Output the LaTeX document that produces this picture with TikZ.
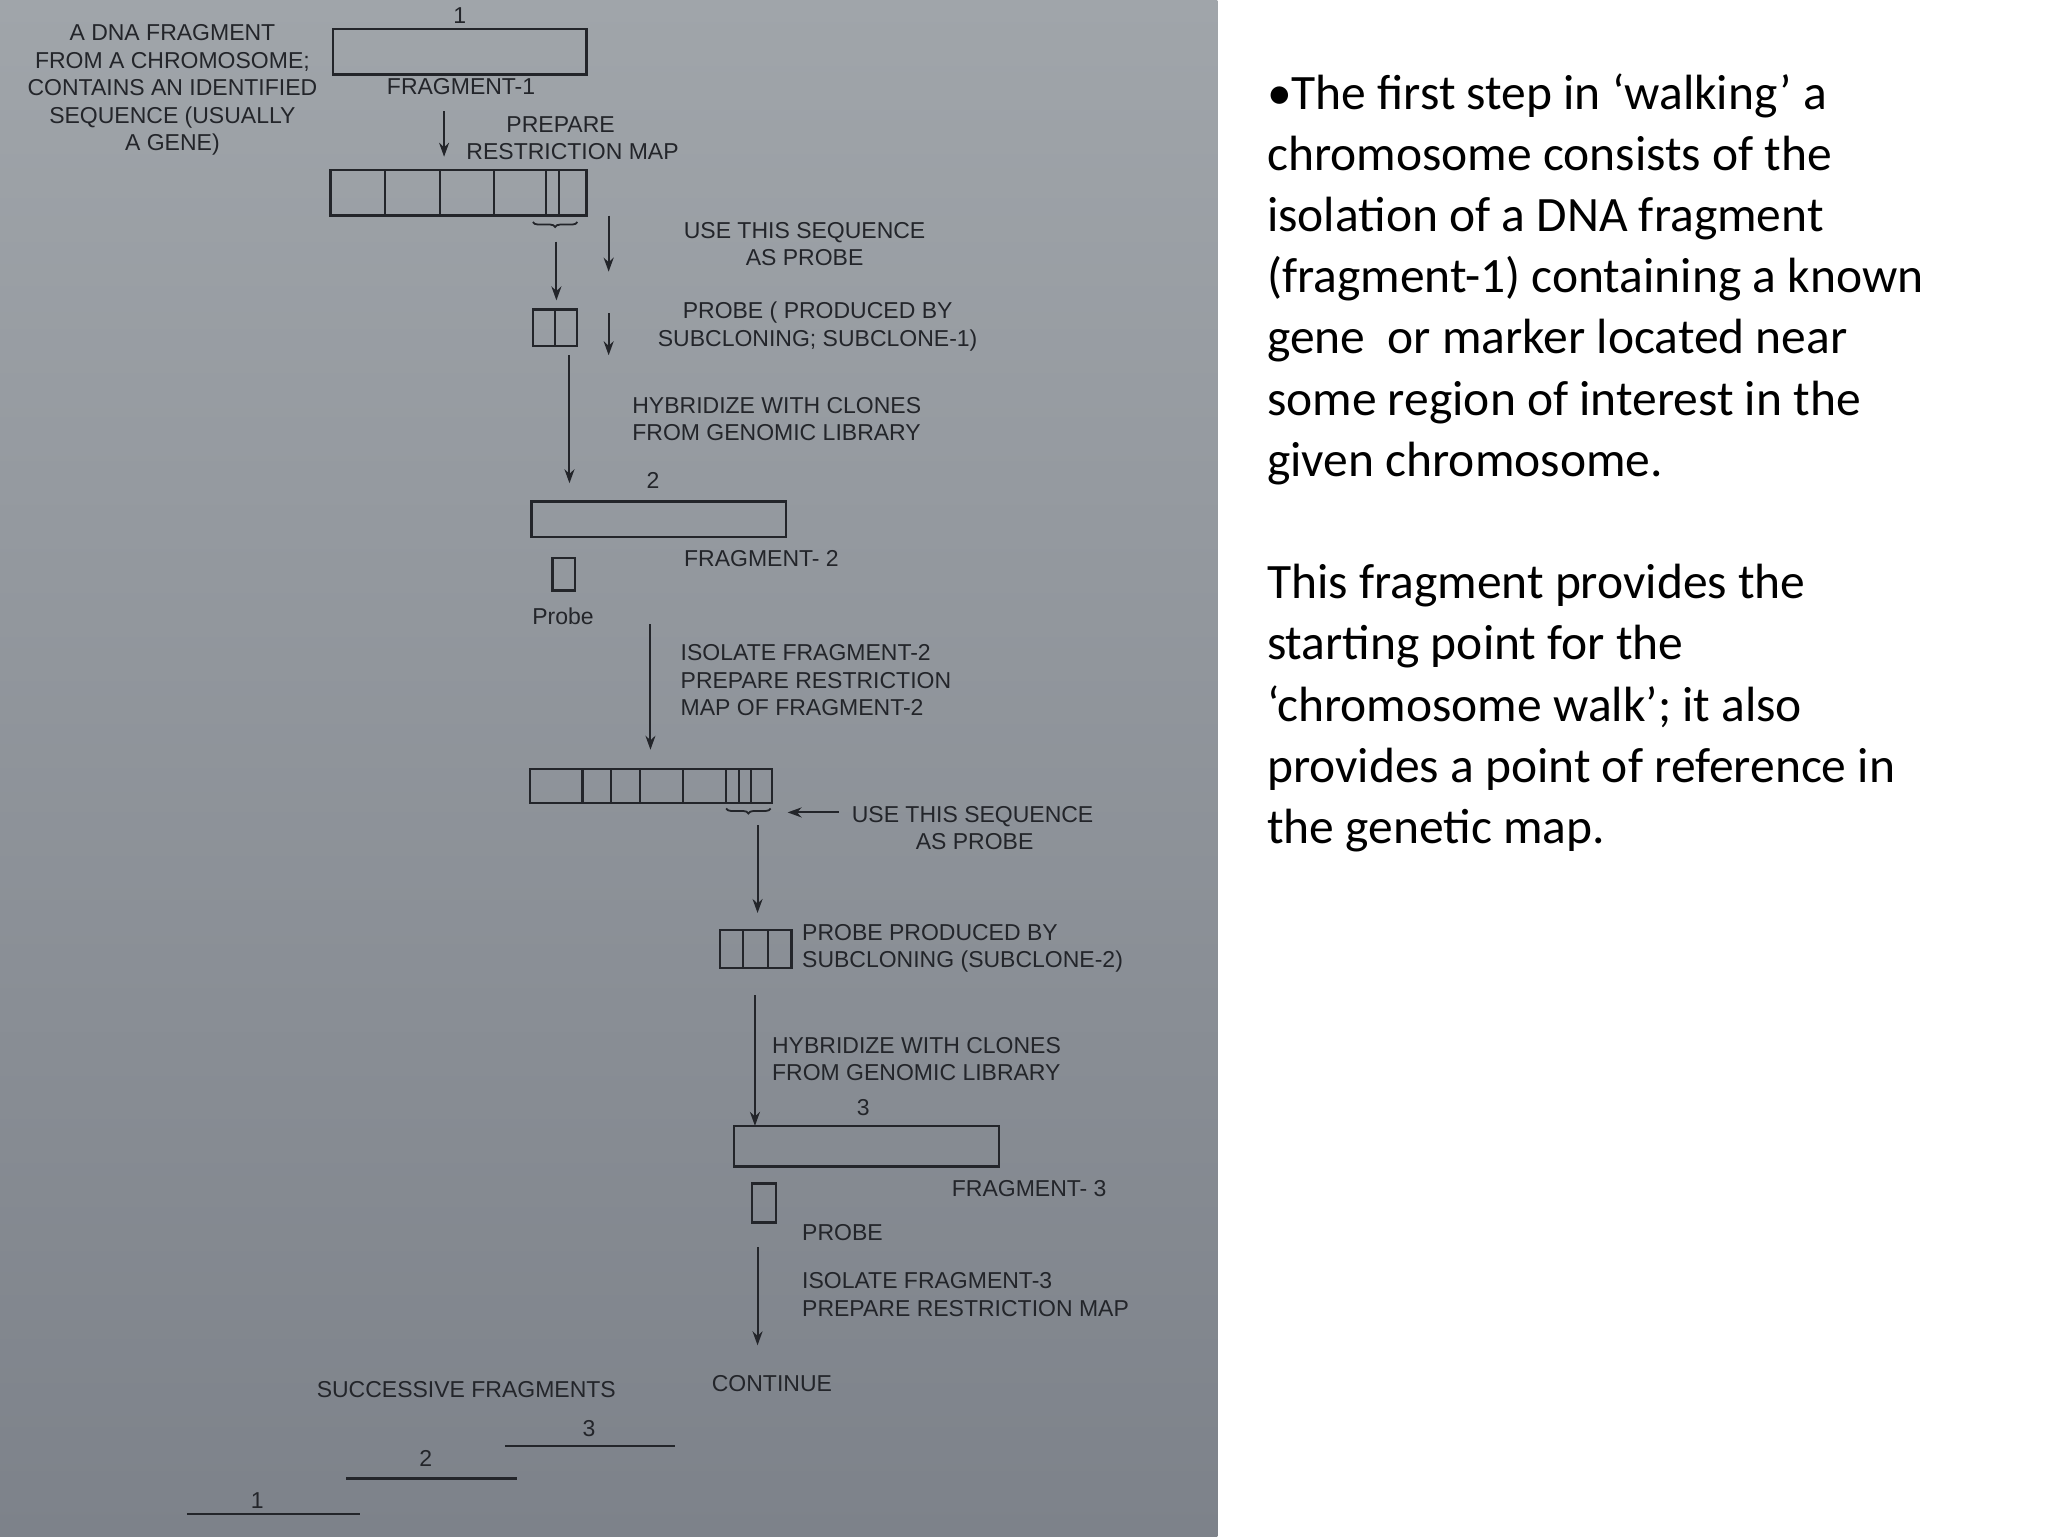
\documentclass[tikz,border=0pt]{standalone}
\usepackage{fontspec}
\setmainfont{Carlito}
\newfontfamily\diag{Liberation Sans}
\usetikzlibrary{arrows.meta,decorations.pathreplacing}
\definecolor{ink}{RGB}{35,37,42}
\definecolor{paperA}{RGB}{160,165,170}
\definecolor{paperB}{RGB}{125,130,138}
\tikzset{
 lbl/.style={font=\diag\fontsize{23}{27.5}\selectfont, text=ink, inner sep=0pt, align=left},
 lblc/.style={lbl, align=center},
 frag/.style={draw=ink, line width=2.3pt},
 arr/.style={draw=ink, line width=2pt, -{Stealth[length=14pt,width=10pt]}},
 brc/.style={draw=ink, line width=1.8pt, decorate, decoration={brace,mirror,amplitude=5pt}},
 ln/.style={draw=ink, line width=2.5pt},
}
\begin{document}
\begin{tikzpicture}[x=1.3061pt,y=-1.3061pt]
\useasboundingbox (0,0) rectangle (1568,1176);
\fill[white] (0,0) rectangle (1568,1176);
\shade[top color=paperA, bottom color=paperB] (0,0) rectangle (932,1176);
% fragment 1
\node[lblc] (t0) at (132,69) {A DNA FRAGMENT\\FROM A CHROMOSOME;\\CONTAINS AN IDENTIFIED\\SEQUENCE (USUALLY\\A GENE)};
\node[lbl] (n1) at (352,12) {1};
\draw[frag] (255,22) rectangle (449,57);
\node[lbl] (f1) at (353,66) {FRAGMENT-1};
\coordinate (a1s) at (340,85); \coordinate (a1e) at (340,120);
\draw[arr] (a1s) -- (a1e);
\node[lbl, anchor=west] (prep) at (357,106) {\hspace*{40pt}PREPARE\\RESTRICTION MAP};
\draw[frag] (253,130) rectangle (449,165);
\foreach \x in {295,337,378,418,428} \draw[frag] (\x,130) -- (\x,165);
\draw[brc] (408,170) -- (442,170);
\coordinate (a2s) at (466,165); \coordinate (a2e) at (466,208);
\draw[arr] (a2s) -- (a2e);
\coordinate (a3s) at (426,185); \coordinate (a3e) at (426,230);
\draw[arr] (a3s) -- (a3e);
\node[lblc] (use1) at (616,187) {USE THIS SEQUENCE\\AS PROBE};
\draw[frag] (408,237) rectangle (442,265); \draw[frag] (425,237) -- (425,265);
\coordinate (a4s) at (466,240); \coordinate (a4e) at (466,272);
\draw[arr] (a4s) -- (a4e);
\node[lblc] (pr1) at (626,250) {PROBE ( PRODUCED BY\\SUBCLONING; SUBCLONE-1)};
\coordinate (a5s) at (436,272); \coordinate (a5e) at (436,370);
\draw[arr] (a5s) -- (a5e);
\node[lbl, anchor=west] (hyb1) at (484,321) {HYBRIDIZE WITH CLONES\\FROM GENOMIC LIBRARY};
% fragment 2
\node[lbl] (n2) at (500,368) {2};
\draw[frag] (407,384) rectangle (602,411);
\node[lbl] (f2) at (583,428) {FRAGMENT- 2};
\draw[frag] (423,427) rectangle (440,452);
\node[lbl] (pb) at (431,472) {Probe};
\coordinate (a6s) at (498,478); \coordinate (a6e) at (498,574);
\draw[arr] (a6s) -- (a6e);
\node[lbl, anchor=west] (iso2) at (521,521) {ISOLATE FRAGMENT-2\\PREPARE RESTRICTION\\MAP OF FRAGMENT-2};
\draw[frag] (406,589) rectangle (591,615);
\foreach \x in {446,468,490,523,556,566,575} \draw[frag] (\x,589) -- (\x,615);
\draw[brc] (556,619) -- (590,619);
\coordinate (a7s) at (642,622); \coordinate (a7e) at (603,622);
\draw[arr] (a7s) -- (a7e);
\node[lbl, anchor=west] (use2) at (652,634) {USE THIS SEQUENCE\\\hspace*{64pt}AS PROBE};
\coordinate (a8s) at (580,632); \coordinate (a8e) at (580,699);
\draw[arr] (a8s) -- (a8e);
\draw[frag] (551,712) rectangle (606,741);
\foreach \x in {569,588} \draw[frag] (\x,712) -- (\x,741);
\node[lbl, anchor=west] (pr2) at (614,726) {PROBE PRODUCED BY\\SUBCLONING (SUBCLONE-2)};
\coordinate (a9s) at (578,762); \coordinate (a9e) at (578,862);
\draw[arr] (a9s) -- (a9e);
\node[lbl, anchor=west] (hyb2) at (591,811) {HYBRIDIZE WITH CLONES\\FROM GENOMIC LIBRARY};
% fragment 3
\node[lbl] (n3) at (661,848) {3};
\draw[frag] (562,862) rectangle (765,893);
\node[lbl] (f3) at (788,910) {FRAGMENT- 3};
\draw[frag] (576,906) rectangle (594,936);
\node[lbl] (pb3) at (645,944) {PROBE};
\coordinate (a10s) at (580,955); \coordinate (a10e) at (580,1030);
\draw[arr] (a10s) -- (a10e);
\node[lbl, anchor=west] (iso3) at (614,991) {ISOLATE FRAGMENT-3\\PREPARE RESTRICTION MAP};
\node[lbl] (succ) at (357,1064) {SUCCESSIVE FRAGMENTS};
\node[lbl] (cont) at (591,1059) {CONTINUE};
\coordinate (l3a) at (387,1107); \coordinate (l3b) at (517,1107); \draw[ln] (l3a) -- (l3b);
\node[lbl] (s3) at (451,1094) {3};
\coordinate (l2a) at (265,1132); \coordinate (l2b) at (396,1132); \draw[ln] (l2a) -- (l2b);
\node[lbl] (s2) at (326,1117) {2};
\coordinate (l1a) at (143,1159); \coordinate (l1b) at (276,1159); \draw[ln] (l1a) -- (l1b);
\node[lbl] (s1) at (197,1149) {1};
% right text
\node[anchor=north west, inner sep=0pt, align=left, font=\fontsize{49.5}{61.2}\selectfont, text=black] (txt) at (970,56)
{•The first step in ‘walking’ a\\chromosome consists of the\\isolation of a DNA fragment\\(fragment-1) containing a known\\gene\ \ or marker located near\\some region of interest in the\\given chromosome.\\[61.2pt]This fragment provides the\\starting point for the\\‘chromosome walk’; it also\\provides a point of reference in\\the genetic map.};
\end{tikzpicture}
\end{document}
